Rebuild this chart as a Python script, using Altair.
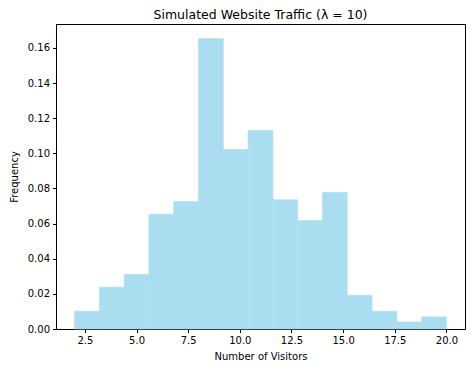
import altair as alt
import pandas as pd

bin_start = [2.0, 3.2, 4.4, 5.6, 6.8, 8.0, 9.2, 10.4, 11.6, 12.8, 14.0, 15.2, 16.4, 17.6, 18.8]
bin_end = [3.2, 4.4, 5.6, 6.8, 8.0, 9.2, 10.4, 11.6, 12.8, 14.0, 15.2, 16.4, 17.6, 18.8, 20.0]
density = [0.0101, 0.0238, 0.0310, 0.0653, 0.0726, 0.1653, 0.1021, 0.1130,
           0.0735, 0.0617, 0.0777, 0.0192, 0.0101, 0.0040, 0.0069]
x_ticks = [2.5, 5.0, 7.5, 10.0, 12.5, 15.0, 17.5, 20.0]
y_ticks = [0.00, 0.02, 0.04, 0.06, 0.08, 0.10, 0.12, 0.14, 0.16]

df = pd.DataFrame({"start": bin_start, "end": bin_end, "density": density})

FONT = "DejaVu Sans"
BAR = "#abddf1"

chart = alt.Chart(df).mark_rect(color=BAR, stroke=BAR, strokeWidth=0.6).encode(
    x=alt.X("start:Q",
            scale=alt.Scale(domain=[1.1, 20.9], nice=False, zero=False),
            axis=alt.Axis(title="Number of Visitors", values=x_ticks, format=".1f",
                          grid=False, tickSize=3.5, labelPadding=3, titlePadding=6,
                          labelFontSize=10, titleFontSize=10, titleFontWeight="normal",
                          labelFont=FONT, titleFont=FONT, labelColor="black", titleColor="black",
                          tickColor="black", domainColor="black", labelFlush=False)),
    x2="end:Q",
    y=alt.Y("density:Q",
            scale=alt.Scale(domain=[0, 0.1736], nice=False),
            axis=alt.Axis(title="Frequency", values=y_ticks, format=".2f",
                          grid=False, tickSize=3.5, labelPadding=3, titlePadding=8,
                          labelFontSize=10, titleFontSize=10, titleFontWeight="normal",
                          labelFont=FONT, titleFont=FONT, labelColor="black", titleColor="black",
                          tickColor="black", domainColor="black", labelFlush=False)),
    y2=alt.datum(0),
).properties(
    width=409,
    height=305,
    title=alt.TitleParams("Simulated Website Traffic (λ = 10)", font=FONT, fontSize=12.5,
                          fontWeight="normal", color="black", offset=3),
    autosize=alt.AutoSizeParams(type="none"),
    padding={"left": 48, "top": 16, "right": 1, "bottom": 40},
).configure_view(stroke="black", strokeWidth=1)

chart.save("out.html", embed_options={"renderer": "svg", "actions": False})
